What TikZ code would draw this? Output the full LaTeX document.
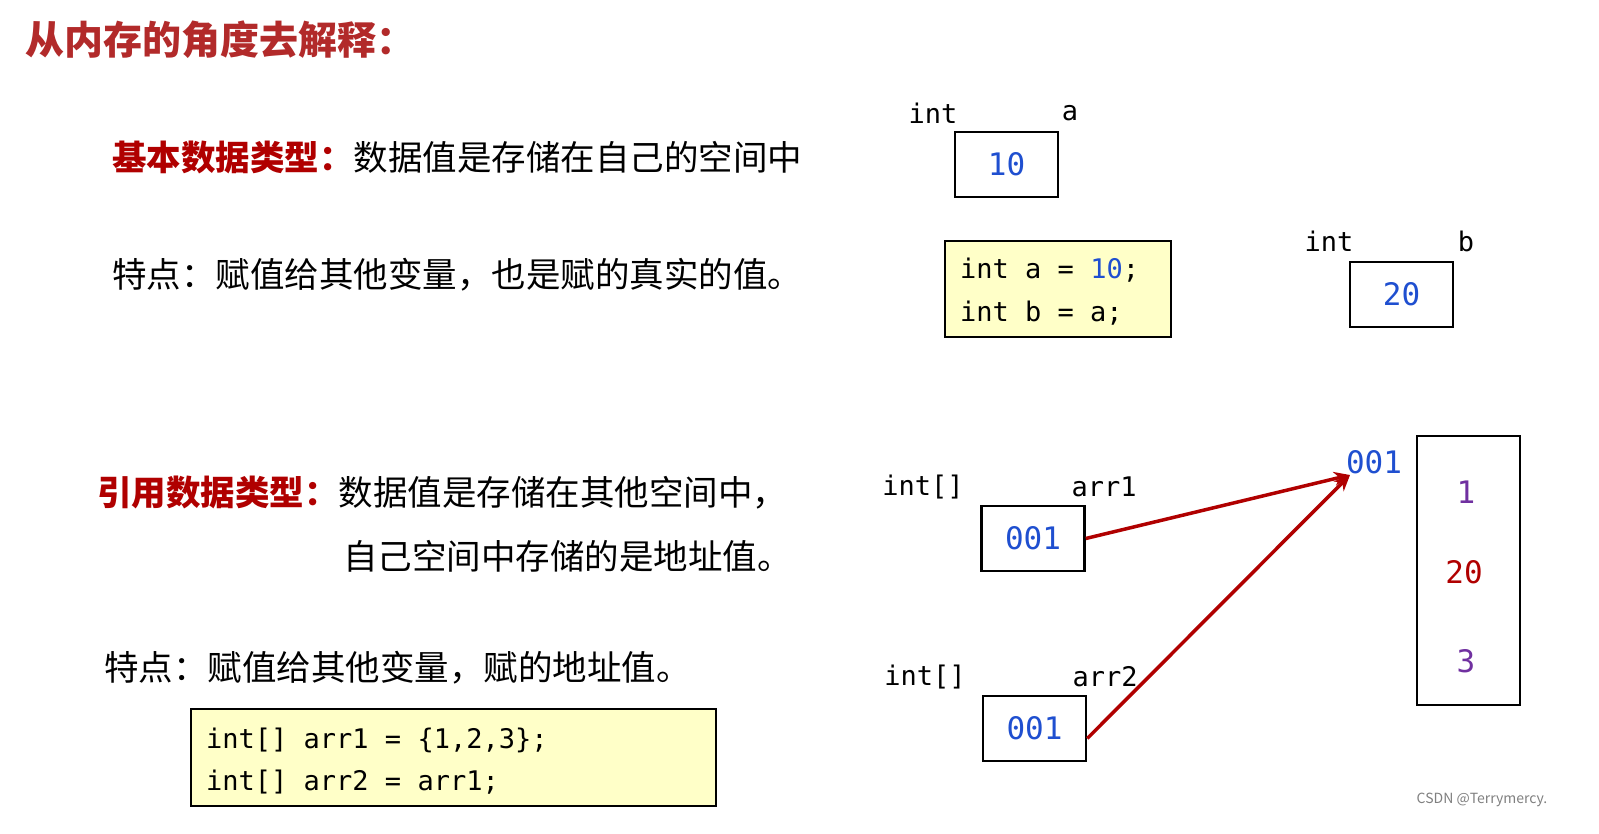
\documentclass[tikz,border=0pt]{standalone}
\usepackage{fontspec}
\setmainfont{Noto Sans CJK SC}
\newfontfamily\cjk{Noto Sans CJK SC}
\newfontfamily\mono{DejaVu Sans Mono}
\usetikzlibrary{arrows.meta}
\definecolor{tred}{HTML}{B22A2A}
\definecolor{kred}{HTML}{B00000}
\definecolor{nblue}{HTML}{1F4FD0}
\definecolor{npurple}{HTML}{7030A0}
\definecolor{ybox}{HTML}{FFFFC8}
\begin{document}
\begin{tikzpicture}[x=1pt,y=-1pt,
  cn/.style={inner sep=0,anchor=west,font=\cjk\fontsize{34.5}{34.5}\selectfont},
  lab/.style={inner sep=0,font=\mono\fontsize{27}{27}\selectfont},
  cell/.style={draw,line width=2.5pt,minimum width=103pt,minimum height=65pt,inner sep=0,font=\mono\fontsize{31}{31}\selectfont,text=nblue},
  code/.style={draw,line width=1.2pt,fill=ybox,inner sep=0},
  codet/.style={inner sep=0,anchor=west,font=\mono\fontsize{27}{27}\selectfont},
  arr/.style={draw=kred,line width=3.5pt,-{Stealth[length=16pt,width=14pt]}}]
\useasboundingbox (0,0) rectangle (1599,834);
\fill[white] (0,0) rectangle (1599,834);
\node[cn,text=tred,font=\cjk\bfseries\fontsize{39}{39}\selectfont] (title) at (25,40) {从内存的角度去解释：};
\node[cn] (l1) at (112,157) {\textcolor{kred}{\bfseries 基本数据类型：}数据值是存储在自己的空间中};
\node[cn] (l2) at (112,275) {特点：赋值给其他变量，也是赋的真实的值。};
\node[cn] (l3) at (97,493) {\textcolor{kred}{\bfseries 引用数据类型：}数据值是存储在其他空间中，};
\node[cn] (l4) at (343,556) {自己空间中存储的是地址值。};
\node[cn] (l5) at (104,668) {特点：赋值给其他变量，赋的地址值。};
% int a
\node[cell] (a) at (1006.5,164.5) {10};
\node[lab] (ta) at (933,113) {int};
\node[lab] (na) at (1070,113) {a};
\node[code,minimum width=226pt,minimum height=96pt] (c1) at (1058,289) {};
\node[codet] (c1a) at (960,270) {int a = \textcolor{nblue}{10};};
\node[codet] (c1b) at (960,313) {int b = a;};
% int b
\node[cell] (b) at (1401.5,294.5) {20};
\node[lab] (tb) at (1329,241) {int};
\node[lab] (nb) at (1466,241) {b};
% code 2
\node[code,minimum width=525pt,minimum height=97pt] (c2) at (453.5,757.5) {};
\node[codet] (c2a) at (206,740) {int[] arr1 = \{1,2,3\};};
\node[codet] (c2b) at (206,782) {int[] arr2 = arr1;};
% arr1
\node[cell] (r1) at (1033,538.5) {001};
\node[lab] (tr1) at (923,487) {int[]};
\node[lab] (nr1) at (1104,487) {arr1};
% arr2
\node[cell] (r2) at (1034.5,728.5) {001};
\node[lab] (tr2) at (925,677) {int[]};
\node[lab] (nr2) at (1105,677) {arr2};
% array
\node[draw,line width=2.5pt,minimum width=103pt,minimum height=269pt,inner sep=0] (arr) at (1468.5,570.5) {};
\node[lab,font=\mono\fontsize{31}{31}\selectfont,text=nblue] (addr) at (1374,462) {001};
\node[lab,font=\mono\fontsize{31}{31}\selectfont,text=npurple] (v1) at (1466,492) {1};
\node[lab,font=\mono\fontsize{31}{31}\selectfont,text=kred] (v2) at (1464,572) {20};
\node[lab,font=\mono\fontsize{31}{31}\selectfont,text=npurple] (v3) at (1466,661) {3};
\coordinate (tip) at (1350,475);
\draw[arr] (r1.east) -- (tip);
\draw[arr] ([yshift=-10pt]r2.east) -- (tip);
\node[inner sep=0,text=gray,font=\fontsize{14}{14}\selectfont] (wm) at (1482,800) {CSDN @Terrymercy.};
\end{tikzpicture}
\end{document}
